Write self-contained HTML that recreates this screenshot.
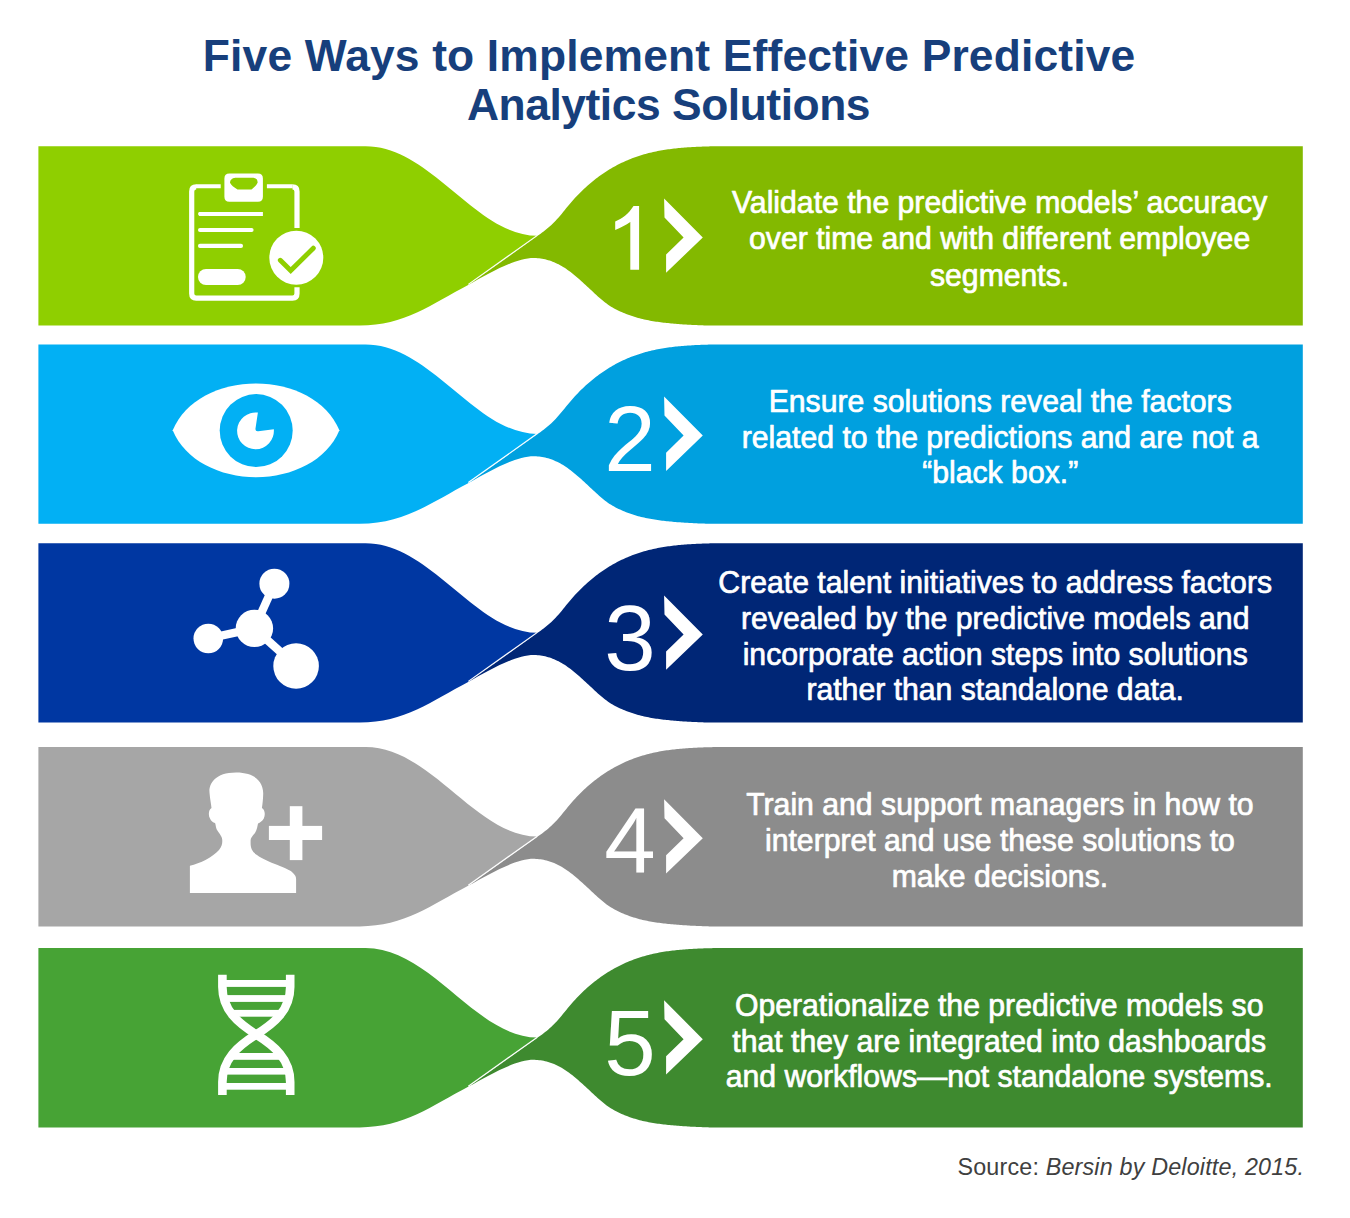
<!DOCTYPE html><html><head><meta charset="utf-8"><style>html,body{margin:0;padding:0;background:#fff;width:1350px;height:1218px;overflow:hidden}svg{display:block}text{font-family:"Liberation Sans",sans-serif}</style></head><body>
<svg width="1350" height="1218" viewBox="0 0 1350 1218">
<g fill="#173f7c" font-weight="bold" font-size="44.4"><text x="202.8" y="70.7" textLength="932.5" lengthAdjust="spacing">Five Ways to Implement Effective Predictive</text><text x="467" y="120" textLength="403.5" lengthAdjust="spacing">Analytics Solutions</text></g>
<path d="M38.4,146.2 H365.55 C431.3,146.2 475.9,235.8 537.6,235.8 L468.6,284.8 C431.5,304.2 404.4,325.6 359.8,325.6 H38.4 Z" fill="#8fcf00"/>
<path d="M714.6,146.2 H1302.8 V325.6 H708.6 L708.6,325.51 707.1,325.48 705.6,325.44 704.1,325.4 702.6,325.35 701.1,325.3 699.6,325.24 698.1,325.19 696.6,325.12 695.1,325.06 693.6,324.99 692.1,324.91 690.6,324.84 689.1,324.75 687.6,324.67 686.1,324.57 684.6,324.48 683.1,324.38 681.6,324.27 680.1,324.16 678.6,324.05 677.1,323.93 675.6,323.81 674.1,323.68 672.6,323.55 671.1,323.41 669.6,323.27 668.1,323.12 666.6,322.96 665.1,322.8 663.6,322.63 662.1,322.45 660.6,322.26 659.1,322.07 657.6,321.86 656.1,321.64 654.6,321.41 653.1,321.17 651.6,320.91 650.1,320.65 648.6,320.36 647.1,320.07 645.6,319.75 644.1,319.42 642.6,319.08 641.1,318.71 639.6,318.33 638.1,317.93 636.6,317.51 635.1,317.07 633.6,316.6 632.1,316.12 630.6,315.62 629.1,315.09 627.6,314.54 626.1,313.96 624.6,313.36 623.1,312.73 621.6,312.08 620.1,311.4 618.6,310.69 617.1,309.96 615.6,309.19 614.1,308.39 612.6,307.54 611.1,306.65 609.6,305.69 608.1,304.68 606.6,303.6 605.1,302.47 603.6,301.29 602.1,300.06 600.6,298.79 599.1,297.48 597.6,296.15 596.1,294.79 594.6,293.41 593.1,292.02 591.6,290.62 590.1,289.22 588.6,287.82 587.1,286.42 585.6,285.03 584.1,283.65 582.6,282.28 581.1,280.92 579.6,279.59 578.1,278.27 576.6,276.98 575.1,275.72 573.6,274.48 572.1,273.28 570.6,272.11 569.1,270.99 567.6,269.9 566.1,268.86 564.6,267.86 563.1,266.91 561.6,266.02 560.1,265.17 558.6,264.37 557.1,263.63 555.6,262.93 554.1,262.28 552.6,261.67 551.1,261.12 549.6,260.61 548.1,260.15 546.6,259.73 545.1,259.36 543.6,259.04 542.1,258.77 540.6,258.53 539.1,258.35 537.6,258.21 536.1,258.11 534.6,258.06 C515.9,257.6 489.8,272.9 468.6,284.8 L537.6,235.8 539.1,234.81 540.6,233.73 542.1,232.62 543.6,231.48 545.1,230.31 546.6,229.09 548.1,227.84 549.6,226.53 551.1,225.18 552.6,223.76 554.1,222.28 555.6,220.73 557.1,219.11 558.6,217.42 560.1,215.67 561.6,213.88 563.1,212.05 564.6,210.21 566.1,208.36 567.6,206.52 569.1,204.71 570.6,202.93 572.1,201.19 573.6,199.5 575.1,197.85 576.6,196.25 578.1,194.68 579.6,193.15 581.1,191.67 582.6,190.21 584.1,188.8 585.6,187.41 587.1,186.07 588.6,184.75 590.1,183.46 591.6,182.21 593.1,180.98 594.6,179.79 596.1,178.62 597.6,177.48 599.1,176.37 600.6,175.29 602.1,174.23 603.6,173.21 605.1,172.21 606.6,171.23 608.1,170.28 609.6,169.36 611.1,168.46 612.6,167.59 614.1,166.74 615.6,165.91 617.1,165.11 618.6,164.34 620.1,163.58 621.6,162.85 623.1,162.14 624.6,161.45 626.1,160.79 627.6,160.14 629.1,159.52 630.6,158.91 632.1,158.33 633.6,157.76 635.1,157.22 636.6,156.69 638.1,156.18 639.6,155.69 641.1,155.22 642.6,154.77 644.1,154.33 645.6,153.91 647.1,153.5 648.6,153.12 650.1,152.74 651.6,152.39 653.1,152.04 654.6,151.71 656.1,151.4 657.6,151.1 659.1,150.81 660.6,150.53 662.1,150.27 663.6,150.02 665.1,149.78 666.6,149.56 668.1,149.34 669.6,149.14 671.1,148.94 672.6,148.76 674.1,148.58 675.6,148.41 677.1,148.26 678.6,148.11 680.1,147.97 681.6,147.83 683.1,147.71 684.6,147.59 686.1,147.48 687.6,147.37 689.1,147.27 690.6,147.18 692.1,147.09 693.6,147 695.1,146.92 696.6,146.85 698.1,146.78 699.6,146.71 701.1,146.65 702.6,146.59 704.1,146.54 705.6,146.49 707.1,146.45 708.6,146.41 710.1,146.37 711.6,146.33 713.1,146.3 714.6,146.27 Z" fill="#83b900"/>
<path d="M468.3,284.38 L537.3,235.38" stroke="#fff" stroke-width="1.15" fill="none"/>
<path d="M664.1,198.4 L702.8,237.4 L666.1,272.8 L666.1,254.5 L683.6,237.4 L664.5,217.4 Z" fill="#fff"/>
<path fill="#fff" d="M633.5,206 H639.1 V269.8 H630.3 V221.9 C626,224.8 620.5,227.8 615.2,230 V221.5 C622,218.5 628.5,214 633.5,206 Z"/>
<text transform="translate(999.6,212.6) scale(1,1.04)" font-size="30.2" fill="#fff" stroke="#fff" stroke-width="0.7" stroke-linejoin="round" text-anchor="middle">Validate the predictive models’ accuracy</text>
<text transform="translate(999.6,249.3) scale(1,1.04)" font-size="30.2" fill="#fff" stroke="#fff" stroke-width="0.7" stroke-linejoin="round" text-anchor="middle">over time and with different employee</text>
<text transform="translate(999.6,285.5) scale(1,1.04)" font-size="30.2" fill="#fff" stroke="#fff" stroke-width="0.7" stroke-linejoin="round" text-anchor="middle">segments.</text>
<path d="M38.4,344.4 H365.55 C431.3,344.4 475.9,434 537.6,434 L468.6,483 C431.5,502.4 404.4,523.8 359.8,523.8 H38.4 Z" fill="#02b0f4"/>
<path d="M714.6,344.4 H1302.8 V523.8 H708.6 L708.6,523.71 707.1,523.68 705.6,523.64 704.1,523.6 702.6,523.55 701.1,523.5 699.6,523.44 698.1,523.39 696.6,523.32 695.1,523.26 693.6,523.19 692.1,523.11 690.6,523.04 689.1,522.95 687.6,522.87 686.1,522.77 684.6,522.68 683.1,522.58 681.6,522.47 680.1,522.36 678.6,522.25 677.1,522.13 675.6,522.01 674.1,521.88 672.6,521.75 671.1,521.61 669.6,521.47 668.1,521.32 666.6,521.16 665.1,521 663.6,520.83 662.1,520.65 660.6,520.46 659.1,520.27 657.6,520.06 656.1,519.84 654.6,519.61 653.1,519.37 651.6,519.11 650.1,518.85 648.6,518.56 647.1,518.27 645.6,517.95 644.1,517.62 642.6,517.28 641.1,516.91 639.6,516.53 638.1,516.13 636.6,515.71 635.1,515.27 633.6,514.8 632.1,514.32 630.6,513.82 629.1,513.29 627.6,512.74 626.1,512.16 624.6,511.56 623.1,510.93 621.6,510.28 620.1,509.6 618.6,508.89 617.1,508.16 615.6,507.39 614.1,506.59 612.6,505.74 611.1,504.85 609.6,503.89 608.1,502.88 606.6,501.8 605.1,500.67 603.6,499.49 602.1,498.26 600.6,496.99 599.1,495.68 597.6,494.35 596.1,492.99 594.6,491.61 593.1,490.22 591.6,488.82 590.1,487.42 588.6,486.02 587.1,484.62 585.6,483.23 584.1,481.85 582.6,480.48 581.1,479.12 579.6,477.79 578.1,476.47 576.6,475.18 575.1,473.92 573.6,472.68 572.1,471.48 570.6,470.31 569.1,469.19 567.6,468.1 566.1,467.06 564.6,466.06 563.1,465.11 561.6,464.22 560.1,463.37 558.6,462.57 557.1,461.83 555.6,461.13 554.1,460.48 552.6,459.87 551.1,459.32 549.6,458.81 548.1,458.35 546.6,457.93 545.1,457.56 543.6,457.24 542.1,456.97 540.6,456.73 539.1,456.55 537.6,456.41 536.1,456.31 534.6,456.26 C515.9,455.8 489.8,471.1 468.6,483 L537.6,434 539.1,433.01 540.6,431.93 542.1,430.82 543.6,429.68 545.1,428.51 546.6,427.29 548.1,426.04 549.6,424.73 551.1,423.38 552.6,421.96 554.1,420.48 555.6,418.93 557.1,417.31 558.6,415.62 560.1,413.87 561.6,412.08 563.1,410.25 564.6,408.41 566.1,406.56 567.6,404.72 569.1,402.91 570.6,401.13 572.1,399.39 573.6,397.7 575.1,396.05 576.6,394.45 578.1,392.88 579.6,391.35 581.1,389.87 582.6,388.41 584.1,387 585.6,385.61 587.1,384.27 588.6,382.95 590.1,381.66 591.6,380.41 593.1,379.18 594.6,377.99 596.1,376.82 597.6,375.68 599.1,374.57 600.6,373.49 602.1,372.43 603.6,371.41 605.1,370.41 606.6,369.43 608.1,368.48 609.6,367.56 611.1,366.66 612.6,365.79 614.1,364.94 615.6,364.11 617.1,363.31 618.6,362.54 620.1,361.78 621.6,361.05 623.1,360.34 624.6,359.65 626.1,358.99 627.6,358.34 629.1,357.72 630.6,357.11 632.1,356.53 633.6,355.96 635.1,355.42 636.6,354.89 638.1,354.38 639.6,353.89 641.1,353.42 642.6,352.97 644.1,352.53 645.6,352.11 647.1,351.7 648.6,351.32 650.1,350.94 651.6,350.59 653.1,350.24 654.6,349.91 656.1,349.6 657.6,349.3 659.1,349.01 660.6,348.73 662.1,348.47 663.6,348.22 665.1,347.98 666.6,347.76 668.1,347.54 669.6,347.34 671.1,347.14 672.6,346.96 674.1,346.78 675.6,346.61 677.1,346.46 678.6,346.31 680.1,346.17 681.6,346.03 683.1,345.91 684.6,345.79 686.1,345.68 687.6,345.57 689.1,345.47 690.6,345.38 692.1,345.29 693.6,345.2 695.1,345.12 696.6,345.05 698.1,344.98 699.6,344.91 701.1,344.85 702.6,344.79 704.1,344.74 705.6,344.69 707.1,344.65 708.6,344.61 710.1,344.57 711.6,344.53 713.1,344.5 714.6,344.47 Z" fill="#00a0df"/>
<path d="M468.3,482.58 L537.3,433.58" stroke="#fff" stroke-width="1.15" fill="none"/>
<path d="M664.1,396.6 L702.8,435.6 L666.1,471 L666.1,452.7 L683.6,435.6 L664.5,415.6 Z" fill="#fff"/>
<text x="630" y="470.9" font-size="92.5" fill="#fff" text-anchor="middle">2</text>
<text transform="translate(1000.2,411.7) scale(1,1.04)" font-size="30.2" fill="#fff" stroke="#fff" stroke-width="0.7" stroke-linejoin="round" text-anchor="middle">Ensure solutions reveal the factors</text>
<text transform="translate(1000.2,447.7) scale(1,1.04)" font-size="30.2" fill="#fff" stroke="#fff" stroke-width="0.7" stroke-linejoin="round" text-anchor="middle">related to the predictions and are not a</text>
<text transform="translate(1000.2,483.4) scale(1,1.04)" font-size="30.2" fill="#fff" stroke="#fff" stroke-width="0.7" stroke-linejoin="round" text-anchor="middle">“black box.”</text>
<path d="M38.4,543.2 H365.55 C431.3,543.2 475.9,632.8 537.6,632.8 L468.6,681.8 C431.5,701.2 404.4,722.6 359.8,722.6 H38.4 Z" fill="#0037a2"/>
<path d="M714.6,543.2 H1302.8 V722.6 H708.6 L708.6,722.51 707.1,722.48 705.6,722.44 704.1,722.4 702.6,722.35 701.1,722.3 699.6,722.24 698.1,722.19 696.6,722.12 695.1,722.06 693.6,721.99 692.1,721.91 690.6,721.84 689.1,721.75 687.6,721.67 686.1,721.57 684.6,721.48 683.1,721.38 681.6,721.27 680.1,721.16 678.6,721.05 677.1,720.93 675.6,720.81 674.1,720.68 672.6,720.55 671.1,720.41 669.6,720.27 668.1,720.12 666.6,719.96 665.1,719.8 663.6,719.63 662.1,719.45 660.6,719.26 659.1,719.07 657.6,718.86 656.1,718.64 654.6,718.41 653.1,718.17 651.6,717.91 650.1,717.65 648.6,717.36 647.1,717.07 645.6,716.75 644.1,716.42 642.6,716.08 641.1,715.71 639.6,715.33 638.1,714.93 636.6,714.51 635.1,714.07 633.6,713.6 632.1,713.12 630.6,712.62 629.1,712.09 627.6,711.54 626.1,710.96 624.6,710.36 623.1,709.73 621.6,709.08 620.1,708.4 618.6,707.69 617.1,706.96 615.6,706.19 614.1,705.39 612.6,704.54 611.1,703.65 609.6,702.69 608.1,701.68 606.6,700.6 605.1,699.47 603.6,698.29 602.1,697.06 600.6,695.79 599.1,694.48 597.6,693.15 596.1,691.79 594.6,690.41 593.1,689.02 591.6,687.62 590.1,686.22 588.6,684.82 587.1,683.42 585.6,682.03 584.1,680.65 582.6,679.28 581.1,677.92 579.6,676.59 578.1,675.27 576.6,673.98 575.1,672.72 573.6,671.48 572.1,670.28 570.6,669.11 569.1,667.99 567.6,666.9 566.1,665.86 564.6,664.86 563.1,663.91 561.6,663.02 560.1,662.17 558.6,661.37 557.1,660.63 555.6,659.93 554.1,659.28 552.6,658.67 551.1,658.12 549.6,657.61 548.1,657.15 546.6,656.73 545.1,656.36 543.6,656.04 542.1,655.77 540.6,655.53 539.1,655.35 537.6,655.21 536.1,655.11 534.6,655.06 C515.9,654.6 489.8,669.9 468.6,681.8 L537.6,632.8 539.1,631.81 540.6,630.73 542.1,629.62 543.6,628.48 545.1,627.31 546.6,626.09 548.1,624.84 549.6,623.53 551.1,622.18 552.6,620.76 554.1,619.28 555.6,617.73 557.1,616.11 558.6,614.42 560.1,612.67 561.6,610.88 563.1,609.05 564.6,607.21 566.1,605.36 567.6,603.52 569.1,601.71 570.6,599.93 572.1,598.19 573.6,596.5 575.1,594.85 576.6,593.25 578.1,591.68 579.6,590.15 581.1,588.67 582.6,587.21 584.1,585.8 585.6,584.41 587.1,583.07 588.6,581.75 590.1,580.46 591.6,579.21 593.1,577.98 594.6,576.79 596.1,575.62 597.6,574.48 599.1,573.37 600.6,572.29 602.1,571.23 603.6,570.21 605.1,569.21 606.6,568.23 608.1,567.28 609.6,566.36 611.1,565.46 612.6,564.59 614.1,563.74 615.6,562.91 617.1,562.11 618.6,561.34 620.1,560.58 621.6,559.85 623.1,559.14 624.6,558.45 626.1,557.79 627.6,557.14 629.1,556.52 630.6,555.91 632.1,555.33 633.6,554.76 635.1,554.22 636.6,553.69 638.1,553.18 639.6,552.69 641.1,552.22 642.6,551.77 644.1,551.33 645.6,550.91 647.1,550.5 648.6,550.12 650.1,549.74 651.6,549.39 653.1,549.04 654.6,548.71 656.1,548.4 657.6,548.1 659.1,547.81 660.6,547.53 662.1,547.27 663.6,547.02 665.1,546.78 666.6,546.56 668.1,546.34 669.6,546.14 671.1,545.94 672.6,545.76 674.1,545.58 675.6,545.41 677.1,545.26 678.6,545.11 680.1,544.97 681.6,544.83 683.1,544.71 684.6,544.59 686.1,544.48 687.6,544.37 689.1,544.27 690.6,544.18 692.1,544.09 693.6,544 695.1,543.92 696.6,543.85 698.1,543.78 699.6,543.71 701.1,543.65 702.6,543.59 704.1,543.54 705.6,543.49 707.1,543.45 708.6,543.41 710.1,543.37 711.6,543.33 713.1,543.3 714.6,543.27 Z" fill="#002676"/>
<path d="M468.3,681.38 L537.3,632.38" stroke="#fff" stroke-width="1.15" fill="none"/>
<path d="M664.1,595.4 L702.8,634.4 L666.1,669.8 L666.1,651.5 L683.6,634.4 L664.5,614.4 Z" fill="#fff"/>
<text x="630" y="669.7" font-size="92.5" fill="#fff" text-anchor="middle">3</text>
<text transform="translate(995.2,593) scale(1,1.04)" font-size="30.2" fill="#fff" stroke="#fff" stroke-width="0.7" stroke-linejoin="round" text-anchor="middle">Create talent initiatives to address factors</text>
<text transform="translate(995.2,629) scale(1,1.04)" font-size="30.2" fill="#fff" stroke="#fff" stroke-width="0.7" stroke-linejoin="round" text-anchor="middle">revealed by the predictive models and</text>
<text transform="translate(995.2,664.7) scale(1,1.04)" font-size="30.2" fill="#fff" stroke="#fff" stroke-width="0.7" stroke-linejoin="round" text-anchor="middle">incorporate action steps into solutions</text>
<text transform="translate(995.2,700.4) scale(1,1.04)" font-size="30.2" fill="#fff" stroke="#fff" stroke-width="0.7" stroke-linejoin="round" text-anchor="middle">rather than standalone data.</text>
<path d="M38.4,747 H365.55 C431.3,747 475.9,836.6 537.6,836.6 L468.6,885.6 C431.5,905 404.4,926.4 359.8,926.4 H38.4 Z" fill="#a6a6a6"/>
<path d="M714.6,747 H1302.8 V926.4 H708.6 L708.6,926.31 707.1,926.28 705.6,926.24 704.1,926.2 702.6,926.15 701.1,926.1 699.6,926.04 698.1,925.99 696.6,925.92 695.1,925.86 693.6,925.79 692.1,925.71 690.6,925.64 689.1,925.55 687.6,925.47 686.1,925.37 684.6,925.28 683.1,925.18 681.6,925.07 680.1,924.96 678.6,924.85 677.1,924.73 675.6,924.61 674.1,924.48 672.6,924.35 671.1,924.21 669.6,924.07 668.1,923.92 666.6,923.76 665.1,923.6 663.6,923.43 662.1,923.25 660.6,923.06 659.1,922.87 657.6,922.66 656.1,922.44 654.6,922.21 653.1,921.97 651.6,921.71 650.1,921.45 648.6,921.16 647.1,920.87 645.6,920.55 644.1,920.22 642.6,919.88 641.1,919.51 639.6,919.13 638.1,918.73 636.6,918.31 635.1,917.87 633.6,917.4 632.1,916.92 630.6,916.42 629.1,915.89 627.6,915.34 626.1,914.76 624.6,914.16 623.1,913.53 621.6,912.88 620.1,912.2 618.6,911.49 617.1,910.76 615.6,909.99 614.1,909.19 612.6,908.34 611.1,907.45 609.6,906.49 608.1,905.48 606.6,904.4 605.1,903.27 603.6,902.09 602.1,900.86 600.6,899.59 599.1,898.28 597.6,896.95 596.1,895.59 594.6,894.21 593.1,892.82 591.6,891.42 590.1,890.02 588.6,888.62 587.1,887.22 585.6,885.83 584.1,884.45 582.6,883.08 581.1,881.72 579.6,880.39 578.1,879.07 576.6,877.78 575.1,876.52 573.6,875.28 572.1,874.08 570.6,872.91 569.1,871.79 567.6,870.7 566.1,869.66 564.6,868.66 563.1,867.71 561.6,866.82 560.1,865.97 558.6,865.17 557.1,864.43 555.6,863.73 554.1,863.08 552.6,862.47 551.1,861.92 549.6,861.41 548.1,860.95 546.6,860.53 545.1,860.16 543.6,859.84 542.1,859.57 540.6,859.33 539.1,859.15 537.6,859.01 536.1,858.91 534.6,858.86 C515.9,858.4 489.8,873.7 468.6,885.6 L537.6,836.6 539.1,835.61 540.6,834.53 542.1,833.42 543.6,832.28 545.1,831.11 546.6,829.89 548.1,828.64 549.6,827.33 551.1,825.98 552.6,824.56 554.1,823.08 555.6,821.53 557.1,819.91 558.6,818.22 560.1,816.47 561.6,814.68 563.1,812.85 564.6,811.01 566.1,809.16 567.6,807.32 569.1,805.51 570.6,803.73 572.1,801.99 573.6,800.3 575.1,798.65 576.6,797.05 578.1,795.48 579.6,793.95 581.1,792.47 582.6,791.01 584.1,789.6 585.6,788.21 587.1,786.87 588.6,785.55 590.1,784.26 591.6,783.01 593.1,781.78 594.6,780.59 596.1,779.42 597.6,778.28 599.1,777.17 600.6,776.09 602.1,775.03 603.6,774.01 605.1,773.01 606.6,772.03 608.1,771.08 609.6,770.16 611.1,769.26 612.6,768.39 614.1,767.54 615.6,766.71 617.1,765.91 618.6,765.14 620.1,764.38 621.6,763.65 623.1,762.94 624.6,762.25 626.1,761.59 627.6,760.94 629.1,760.32 630.6,759.71 632.1,759.13 633.6,758.56 635.1,758.02 636.6,757.49 638.1,756.98 639.6,756.49 641.1,756.02 642.6,755.57 644.1,755.13 645.6,754.71 647.1,754.3 648.6,753.92 650.1,753.54 651.6,753.19 653.1,752.84 654.6,752.51 656.1,752.2 657.6,751.9 659.1,751.61 660.6,751.33 662.1,751.07 663.6,750.82 665.1,750.58 666.6,750.36 668.1,750.14 669.6,749.94 671.1,749.74 672.6,749.56 674.1,749.38 675.6,749.21 677.1,749.06 678.6,748.91 680.1,748.77 681.6,748.63 683.1,748.51 684.6,748.39 686.1,748.28 687.6,748.17 689.1,748.07 690.6,747.98 692.1,747.89 693.6,747.8 695.1,747.72 696.6,747.65 698.1,747.58 699.6,747.51 701.1,747.45 702.6,747.39 704.1,747.34 705.6,747.29 707.1,747.25 708.6,747.21 710.1,747.17 711.6,747.13 713.1,747.1 714.6,747.07 Z" fill="#8c8c8c"/>
<path d="M468.3,885.18 L537.3,836.18" stroke="#fff" stroke-width="1.15" fill="none"/>
<path d="M664.1,799.2 L702.8,838.2 L666.1,873.6 L666.1,855.3 L683.6,838.2 L664.5,818.2 Z" fill="#fff"/>
<text x="630" y="871.5" font-size="92.5" fill="#fff" text-anchor="middle">4</text>
<text transform="translate(999.9,814.9) scale(1,1.04)" font-size="30.2" fill="#fff" stroke="#fff" stroke-width="0.7" stroke-linejoin="round" text-anchor="middle">Train and support managers in how to</text>
<text transform="translate(999.9,850.7) scale(1,1.04)" font-size="30.2" fill="#fff" stroke="#fff" stroke-width="0.7" stroke-linejoin="round" text-anchor="middle">interpret and use these solutions to</text>
<text transform="translate(999.9,886.7) scale(1,1.04)" font-size="30.2" fill="#fff" stroke="#fff" stroke-width="0.7" stroke-linejoin="round" text-anchor="middle">make decisions.</text>
<path d="M38.4,948 H365.55 C431.3,948 475.9,1037.6 537.6,1037.6 L468.6,1086.6 C431.5,1106 404.4,1127.4 359.8,1127.4 H38.4 Z" fill="#47a335"/>
<path d="M714.6,948 H1302.8 V1127.4 H708.6 L708.6,1127.31 707.1,1127.28 705.6,1127.24 704.1,1127.2 702.6,1127.15 701.1,1127.1 699.6,1127.04 698.1,1126.99 696.6,1126.92 695.1,1126.86 693.6,1126.79 692.1,1126.71 690.6,1126.64 689.1,1126.55 687.6,1126.47 686.1,1126.37 684.6,1126.28 683.1,1126.18 681.6,1126.07 680.1,1125.96 678.6,1125.85 677.1,1125.73 675.6,1125.61 674.1,1125.48 672.6,1125.35 671.1,1125.21 669.6,1125.07 668.1,1124.92 666.6,1124.76 665.1,1124.6 663.6,1124.43 662.1,1124.25 660.6,1124.06 659.1,1123.87 657.6,1123.66 656.1,1123.44 654.6,1123.21 653.1,1122.97 651.6,1122.71 650.1,1122.45 648.6,1122.16 647.1,1121.87 645.6,1121.55 644.1,1121.22 642.6,1120.88 641.1,1120.51 639.6,1120.13 638.1,1119.73 636.6,1119.31 635.1,1118.87 633.6,1118.4 632.1,1117.92 630.6,1117.42 629.1,1116.89 627.6,1116.34 626.1,1115.76 624.6,1115.16 623.1,1114.53 621.6,1113.88 620.1,1113.2 618.6,1112.49 617.1,1111.76 615.6,1110.99 614.1,1110.19 612.6,1109.34 611.1,1108.45 609.6,1107.49 608.1,1106.48 606.6,1105.4 605.1,1104.27 603.6,1103.09 602.1,1101.86 600.6,1100.59 599.1,1099.28 597.6,1097.95 596.1,1096.59 594.6,1095.21 593.1,1093.82 591.6,1092.42 590.1,1091.02 588.6,1089.62 587.1,1088.22 585.6,1086.83 584.1,1085.45 582.6,1084.08 581.1,1082.72 579.6,1081.39 578.1,1080.07 576.6,1078.78 575.1,1077.52 573.6,1076.28 572.1,1075.08 570.6,1073.91 569.1,1072.79 567.6,1071.7 566.1,1070.66 564.6,1069.66 563.1,1068.71 561.6,1067.82 560.1,1066.97 558.6,1066.17 557.1,1065.43 555.6,1064.73 554.1,1064.08 552.6,1063.47 551.1,1062.92 549.6,1062.41 548.1,1061.95 546.6,1061.53 545.1,1061.16 543.6,1060.84 542.1,1060.57 540.6,1060.33 539.1,1060.15 537.6,1060.01 536.1,1059.91 534.6,1059.86 C515.9,1059.4 489.8,1074.7 468.6,1086.6 L537.6,1037.6 539.1,1036.61 540.6,1035.53 542.1,1034.42 543.6,1033.28 545.1,1032.11 546.6,1030.89 548.1,1029.64 549.6,1028.33 551.1,1026.98 552.6,1025.56 554.1,1024.08 555.6,1022.53 557.1,1020.91 558.6,1019.22 560.1,1017.47 561.6,1015.68 563.1,1013.85 564.6,1012.01 566.1,1010.16 567.6,1008.32 569.1,1006.51 570.6,1004.73 572.1,1002.99 573.6,1001.3 575.1,999.65 576.6,998.05 578.1,996.48 579.6,994.95 581.1,993.47 582.6,992.01 584.1,990.6 585.6,989.21 587.1,987.87 588.6,986.55 590.1,985.26 591.6,984.01 593.1,982.78 594.6,981.59 596.1,980.42 597.6,979.28 599.1,978.17 600.6,977.09 602.1,976.03 603.6,975.01 605.1,974.01 606.6,973.03 608.1,972.08 609.6,971.16 611.1,970.26 612.6,969.39 614.1,968.54 615.6,967.71 617.1,966.91 618.6,966.14 620.1,965.38 621.6,964.65 623.1,963.94 624.6,963.25 626.1,962.59 627.6,961.94 629.1,961.32 630.6,960.71 632.1,960.13 633.6,959.56 635.1,959.02 636.6,958.49 638.1,957.98 639.6,957.49 641.1,957.02 642.6,956.57 644.1,956.13 645.6,955.71 647.1,955.3 648.6,954.92 650.1,954.54 651.6,954.19 653.1,953.84 654.6,953.51 656.1,953.2 657.6,952.9 659.1,952.61 660.6,952.33 662.1,952.07 663.6,951.82 665.1,951.58 666.6,951.36 668.1,951.14 669.6,950.94 671.1,950.74 672.6,950.56 674.1,950.38 675.6,950.21 677.1,950.06 678.6,949.91 680.1,949.77 681.6,949.63 683.1,949.51 684.6,949.39 686.1,949.28 687.6,949.17 689.1,949.07 690.6,948.98 692.1,948.89 693.6,948.8 695.1,948.72 696.6,948.65 698.1,948.58 699.6,948.51 701.1,948.45 702.6,948.39 704.1,948.34 705.6,948.29 707.1,948.25 708.6,948.21 710.1,948.17 711.6,948.13 713.1,948.1 714.6,948.07 Z" fill="#3e8a2f"/>
<path d="M468.3,1086.18 L537.3,1037.18" stroke="#fff" stroke-width="1.15" fill="none"/>
<path d="M664.1,1000.2 L702.8,1039.2 L666.1,1074.6 L666.1,1056.3 L683.6,1039.2 L664.5,1019.2 Z" fill="#fff"/>
<text x="630" y="1074.5" font-size="92.5" fill="#fff" text-anchor="middle">5</text>
<text transform="translate(999.2,1015.6) scale(1,1.04)" font-size="30.2" fill="#fff" stroke="#fff" stroke-width="0.7" stroke-linejoin="round" text-anchor="middle">Operationalize the predictive models so</text>
<text transform="translate(999.2,1051.6) scale(1,1.04)" font-size="30.2" fill="#fff" stroke="#fff" stroke-width="0.7" stroke-linejoin="round" text-anchor="middle">that they are integrated into dashboards</text>
<text transform="translate(999.2,1087.3) scale(1,1.04)" font-size="30.2" fill="#fff" stroke="#fff" stroke-width="0.7" stroke-linejoin="round" text-anchor="middle">and workflows—not standalone systems.</text>
<path d="M196.2,186.9 Q191.7,186.9 191.7,191.4 V293.6 Q191.7,298.1 196.2,298.1 H292.5 Q297,298.1 297,293.6 V287.3 M297,228 V191.4 Q297,186.9 292.5,186.9" fill="none" stroke="#fff" stroke-width="5.2"/>
<path d="M196,186.2 H220.7 M266.9,186.2 H292.7" fill="none" stroke="#fff" stroke-width="4"/>
<path fill="#fff" fill-rule="evenodd" d="M229.4,173.6 H257.9 Q262.9,173.6 262.9,178.6 V196.7 Q262.9,201.7 257.9,201.7 H229.4 Q224.4,201.7 224.4,196.7 V178.6 Q224.4,173.6 229.4,173.6 Z M235.3,177.7 H253.5 Q257.8,178.6 257.6,182.7 Q256.5,185.5 251.5,189.6 H237.5 Q231.8,186 230,182.7 Q230,178.5 235.3,177.7 Z"/>
<path fill="#fff" d="M199.3,212 H262.9 V216 H199.3 Q197.6,214.6 198.3,213 Q198.6,212 199.3,212 Z"/>
<rect x="198" y="228" width="55.6" height="4" rx="2" fill="#fff"/>
<rect x="198" y="243.8" width="45" height="4.2" rx="2" fill="#fff"/>
<rect x="198" y="269" width="47.7" height="16" rx="8" fill="#fff"/>
<circle cx="296.3" cy="257.7" r="27" fill="#fff"/>
<path d="M280.3,260.3 L290.7,270.6 L313.3,248.2" fill="none" stroke="#8fcf00" stroke-width="4.9" stroke-linecap="round"/>
<path fill="#fff" d="M172.7,430.3 C185,400 220,383.4 256,383.4 C292,383.4 327,400 339.4,430.3 C327,460.6 292,477.2 256,477.2 C220,477.2 185,460.6 172.7,430.3 Z"/>
<circle cx="256.2" cy="430.6" r="36.5" fill="#02b0f4"/>
<path fill="#fff" d="M257.9,412.6 L255.5,428.6 Q255.1,431.6 258.3,431.2 L273.84,429.37 A18.4,18.4 0 1,1 257.9,412.6 Z"/>
<g stroke="#fff" stroke-width="8.3"><line x1="254.4" y1="628.4" x2="274.4" y2="583.7"/><line x1="254.4" y1="628.4" x2="208.3" y2="638.5"/><line x1="254.4" y1="628.4" x2="296.1" y2="666"/></g>
<g fill="#fff"><circle cx="274.4" cy="583.7" r="15"/><circle cx="208.3" cy="638.5" r="14.8"/><circle cx="254.4" cy="628.4" r="18.7"/><circle cx="296.1" cy="666" r="22.8"/></g>
<path fill="#fff" d="M189.9,893.1 V865.8 C200,863.5 213,857 219,850 C222.5,846 222.4,842 222.2,839.5 C222,836 218,832 216.6,829.3 C215.6,826 215.5,823.5 215,823 C213,822.5 211,821 210,818.5 C208,815 208.7,809.5 211.5,808 C211,803 210,799 209.6,793.5 C208.5,786 213,772.6 236.1,772.6 C259,772.6 263.5,786 263.2,794 C263,800 262.5,804 261.9,808 C265,809.5 265.5,815 263.8,818.5 C262.5,821 260,822.5 258,823.5 C257.5,826 257,830 255,833 C252,836.5 250.6,838 250.6,840.5 V843.1 C250.6,848 252,852 257,855 C262,859 270,862 277,864.8 C285,868 290,870 293,873 C295,875 296.1,876.5 296.1,879 V893.1 Z"/>
<rect x="289.8" y="806.2" width="12.6" height="53.9" fill="#fff"/>
<rect x="268.9" y="825.9" width="53.2" height="14.1" fill="#fff"/>
<rect x="222.4" y="980" width="67.8" height="6.9" fill="#fff"/>
<rect x="223.84" y="995.1" width="64.92" height="6.8" fill="#fff"/>
<rect x="231.13" y="1009.9" width="50.33" height="6.8" fill="#fff"/>
<rect x="230.62" y="1053" width="51.37" height="6.8" fill="#fff"/>
<rect x="223.65" y="1068" width="65.3" height="6.6" fill="#fff"/>
<rect x="222.4" y="1083" width="67.8" height="6.7" fill="#fff"/>
<g fill="none" stroke="#fff" stroke-width="8.6"><path d="M222.4,974.8 V987 C222.4,1010 238,1023 256.3,1034.5 C274.6,1046 290.2,1059 290.2,1082 V1095.1"/><path d="M290.2,974.8 V987 C290.2,1010 274.6,1023 256.3,1034.5 C238,1046 222.4,1059 222.4,1082 V1095.1"/></g>
<text x="957.5" y="1175" font-size="23.3" fill="#404040" textLength="346.5" lengthAdjust="spacing">Source: <tspan font-style="italic">Bersin by Deloitte, 2015.</tspan></text>
</svg></body></html>
